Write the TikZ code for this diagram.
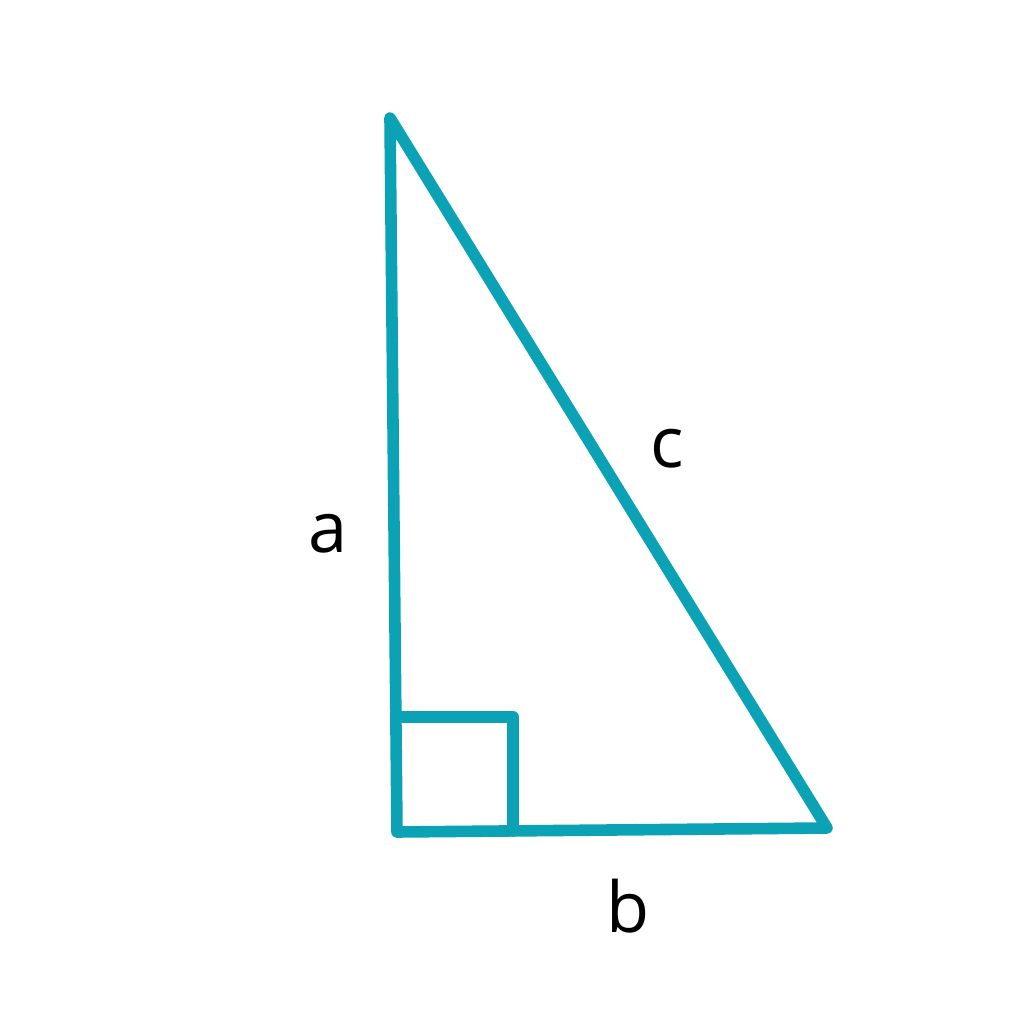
\documentclass[tikz,border=0pt]{standalone}
\usepackage{fontspec}
\setmainfont{Open Sans}
\usepackage{tikz}
\definecolor{teal}{HTML}{0AA2B4}

\begin{document}
\begin{tikzpicture}[x=1cm, y=1cm, side/.style={draw=teal, line width=3.3pt, line join=round, line cap=round}, every node/.style={font=\fontsize{20}{24}\selectfont, anchor=base, inner sep=0pt}]
					\useasboundingbox (0,0) rectangle (10.24,10.24);
					\coordinate (A) at (3.90,9.06);
					\coordinate (C) at (3.97,1.92);
					\coordinate (B) at (8.27,1.96);
					\coordinate (s1) at (3.98,3.07);
					\coordinate (s2) at (5.13,3.07);
					\coordinate (s3) at (5.13,1.93);

					\draw[side] (A) -- (C) -- (B) -- cycle;
					\draw[side] (s1) -- (s2) -- (s3);

					\node (a) at (3.28,4.71) {a};
					\node (b) at (6.28,0.91) {b};
					\node (c) at (6.67,5.56) {c};
				\end{tikzpicture}
\end{document}
